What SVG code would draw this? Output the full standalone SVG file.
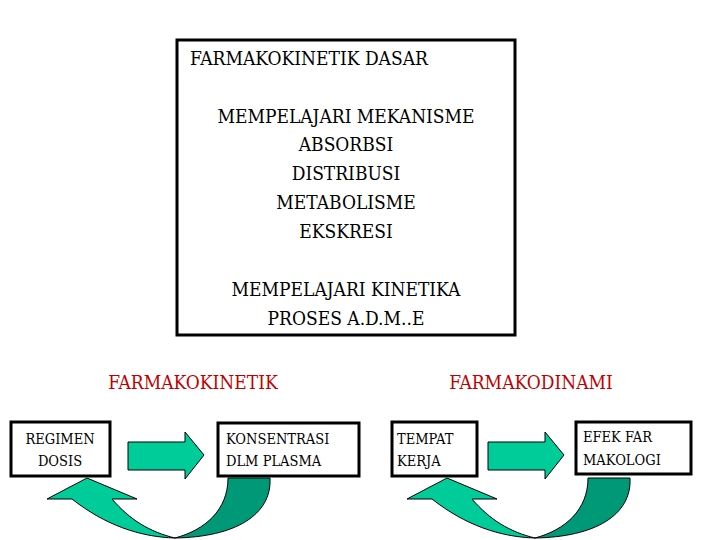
<svg xmlns="http://www.w3.org/2000/svg" width="720" height="540" viewBox="0 0 720 540">
<style>
text{font-family:'DejaVu Serif Condensed','Liberation Serif','DejaVu Serif',serif;fill:#000}
.m{font-size:19px;text-anchor:middle}
.s{font-size:14.5px}
.r{font-size:19px;fill:#c00000;text-anchor:middle}
.box{fill:#fff;stroke:#000;stroke-width:3}
.l{fill:#00cc99;stroke:#000;stroke-width:1}
.d{fill:#009977;stroke:#000;stroke-width:1}
</style>
<defs>
<g id="cyc">
<path class="l" d="M128,442 L185,442 L185,432 L204,455 L185,479 L185,470 L128,470 Z"/>
<path class="d" d="M228,478 L270,478 C272,515 235,537 175,538 C205,530 228,510 228,478 Z"/>
<path class="l" d="M175,538 C140,537 105,525 72,499 L47,499 L87,478 L137,499 L112,499 C130,520 150,532 175,538 Z"/>
</g>
</defs>
<g id="main">
<rect class="box" x="177" y="40" width="338" height="295"/>
<text x="190" y="65" font-size="19">FARMAKOKINETIK DASAR</text>
<text class="m" x="346" y="123">MEMPELAJARI MEKANISME</text>
<text class="m" x="346" y="151">ABSORBSI</text>
<text class="m" x="346" y="180">DISTRIBUSI</text>
<text class="m" x="346" y="209">METABOLISME</text>
<text class="m" x="346" y="238">EKSKRESI</text>
<text class="m" x="346" y="296">MEMPELAJARI KINETIKA</text>
<text class="m" x="346" y="325">PROSES  A.D.M..E</text>
</g>
<g id="labels">
<text class="r" x="193" y="389">FARMAKOKINETIK</text>
<text class="r" x="531" y="389">FARMAKODINAMI</text>
</g>
<g id="regimen"><rect class="box" x="11" y="422" width="99" height="54"/>
<text class="s" x="60" y="444" text-anchor="middle">REGIMEN</text><text class="s" x="60" y="466" text-anchor="middle">DOSIS</text></g>
<g id="konsentrasi"><rect class="box" x="218" y="423" width="141" height="53"/>
<text class="s" x="226" y="444">KONSENTRASI</text><text class="s" x="226" y="466">DLM PLASMA</text></g>
<g id="tempat"><rect class="box" x="392" y="422" width="85" height="54"/>
<text class="s" x="397" y="444">TEMPAT</text><text class="s" x="397" y="466">KERJA</text></g>
<g id="efek"><rect class="box" x="576" y="422" width="115" height="52"/>
<text class="s" x="583" y="442">EFEK FAR</text><text class="s" x="583" y="465">MAKOLOGI</text></g>
<g id="connectors">
<use href="#cyc"/>
<use href="#cyc" x="360"/>
</g>
</svg>
